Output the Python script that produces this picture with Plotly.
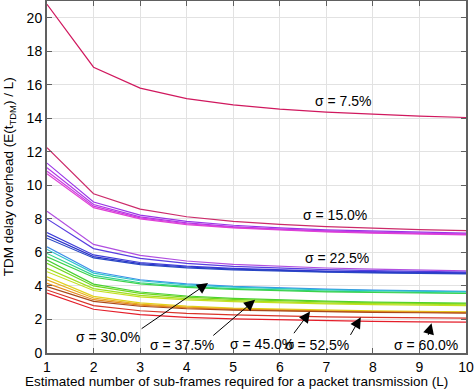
import plotly.graph_objects as go

L = [1, 2, 3, 4, 5, 6, 7, 8, 9, 10]

s075_a = [20.8, 17.05, 15.8, 15.18, 14.8, 14.55, 14.37, 14.24, 14.13, 14.05]

s150_a = [12.25, 9.5, 8.58, 8.13, 7.85, 7.67, 7.54, 7.44, 7.36, 7.3]
s150_b = [11.33, 9.01, 8.23, 7.85, 7.62, 7.46, 7.35, 7.27, 7.2, 7.15]
s150_c = [11.05, 8.86, 8.12, 7.76, 7.54, 7.39, 7.29, 7.21, 7.15, 7.1]
s150_d = [10.85, 8.76, 8.06, 7.71, 7.50, 7.36, 7.26, 7.18, 7.13, 7.08]
s150_e = [10.7, 8.67, 8.0, 7.66, 7.46, 7.32, 7.22, 7.15, 7.09, 7.05]

s225_a = [8.45, 6.48, 5.82, 5.49, 5.29, 5.16, 5.07, 5.0, 4.94, 4.9]
s225_b = [8.0, 6.23, 5.64, 5.35, 5.17, 5.06, 4.97, 4.91, 4.86, 4.82]
s225_c = [7.18, 5.85, 5.4, 5.18, 5.05, 4.96, 4.89, 4.85, 4.81, 4.78]
s225_d = [7.0, 5.75, 5.33, 5.13, 5.0, 4.92, 4.86, 4.81, 4.78, 4.75]
s225_e = [6.85, 5.67, 5.27, 5.08, 4.96, 4.88, 4.82, 4.78, 4.75, 4.72]

s300_a = [6.33, 4.86, 4.37, 4.12, 3.97, 3.88, 3.81, 3.75, 3.71, 3.68]
s300_b = [6.18, 4.77, 4.31, 4.07, 3.93, 3.84, 3.77, 3.72, 3.68, 3.65]
s300_c = [5.94, 4.63, 4.19, 3.97, 3.84, 3.76, 3.69, 3.65, 3.61, 3.58]
s300_d = [5.74, 4.52, 4.12, 3.92, 3.79, 3.71, 3.65, 3.61, 3.58, 3.55]

s375_a = [5.54, 4.11, 3.64, 3.40, 3.26, 3.16, 3.09, 3.04, 3.0, 2.97]
s375_b = [5.35, 4.0, 3.56, 3.33, 3.2, 3.11, 3.05, 2.99, 2.96, 2.93]
s375_c = [5.05, 3.84, 3.44, 3.24, 3.12, 3.04, 2.98, 2.94, 2.91, 2.88]
s375_d = [4.85, 3.73, 3.35, 3.17, 3.06, 2.98, 2.93, 2.89, 2.86, 2.83]

s450_a = [4.55, 3.38, 2.99, 2.8, 2.68, 2.61, 2.55, 2.51, 2.48, 2.45]
s450_b = [4.36, 3.28, 2.92, 2.74, 2.64, 2.56, 2.51, 2.47, 2.44, 2.42]
s450_c = [4.16, 3.18, 2.86, 2.69, 2.6, 2.53, 2.48, 2.45, 2.42, 2.4]
s450_d = [3.96, 3.08, 2.79, 2.64, 2.56, 2.50, 2.45, 2.42, 2.4, 2.38]

s525_a = [3.76, 2.83, 2.52, 2.36, 2.27, 2.20, 2.16, 2.13, 2.10, 2.08]
s600_a = [3.57, 2.61, 2.29, 2.13, 2.03, 1.97, 1.92, 1.89, 1.86, 1.84]

series = [
    (s075_a, "#d0185e"),
    (s150_a, "#cc2a6a"), (s150_b, "#9a34e6"), (s150_c, "#b236e6"),
    (s150_d, "#cc3ce0"), (s150_e, "#e040d6"),
    (s225_a, "#b04ee0"), (s225_b, "#5a3ee0"), (s225_c, "#3c3cd8"),
    (s225_d, "#2c34c8"), (s225_e, "#2846c4"),
    (s300_a, "#3c8ee8"), (s300_b, "#2cc4cc"), (s300_c, "#30d28a"), (s300_d, "#3cd24a"),
    (s375_a, "#48d030"), (s375_b, "#70d620"), (s375_c, "#a0de20"), (s375_d, "#c4e020"),
    (s450_a, "#e2d21e"), (s450_b, "#e6b01e"), (s450_c, "#e68a1e"), (s450_d, "#a8481a"),
    (s525_a, "#d83428"), (s600_a, "#e41e2a"),
]

labels = ["σ = 7.5%", "σ = 15.0%", "σ = 22.5%", "σ = 30.0%", "σ = 37.5%",
          "σ = 45.0%", "σ = 52.5%", "σ = 60.0%"]
label_x = [7.36, 7.19, 7.23, 2.31, 3.9, 5.62, 6.8, 9.14]
label_y = [15.05, 8.22, 5.64, 0.93, 0.5, 0.55, 0.5, 0.5]

arrow_tip_x = [4.46, 5.47, 6.65, 7.74, 9.26]
arrow_tip_y = [4.17, 3.17, 2.47, 2.14, 1.78]
arrow_tail_x = [3.0, 4.54, 6.28, 7.5, 9.18]
arrow_tail_y = [1.39, 0.97, 1.09, 0.99, 0.99]

FONT = "Arial, 'Liberation Sans', sans-serif"

fig = go.Figure()
for vals, col in series:
    fig.add_trace(go.Scatter(x=L, y=vals, mode="lines",
                             line=dict(color=col, width=1.2),
                             showlegend=False, hoverinfo="skip"))

for t, x, y in zip(labels, label_x, label_y):
    fig.add_annotation(x=x, y=y, text=t, showarrow=False,
                       font=dict(family=FONT, size=14, color="black"))

for tx, ty, sx, sy in zip(arrow_tip_x, arrow_tip_y, arrow_tail_x, arrow_tail_y):
    fig.add_annotation(x=tx, y=ty, ax=sx, ay=sy, axref="x", ayref="y",
                       text="", showarrow=True, arrowhead=2, arrowsize=2.2,
                       arrowwidth=1, arrowcolor="black")

# axis titles as paper annotations
fig.add_annotation(xref="paper", yref="paper", x=(236 - 47) / 419, y=-0.082,
                   text="Estimated number of sub-frames required for a packet transmission (L)",
                   showarrow=False, xanchor="center", yanchor="middle",
                   font=dict(family=FONT, size=13.5, color="black"))
fig.add_annotation(xref="paper", yref="paper", x=-0.09, y=0.5, textangle=-90,
                   text="TDM delay overhead (E(t<sub>TDM</sub>) / L)",
                   showarrow=False, xanchor="center", yanchor="middle",
                   font=dict(family=FONT, size=13.5, color="black"))

axis_common = dict(showline=True, linecolor="#606060", linewidth=2, mirror="ticks",
                   ticks="inside", ticklen=5, tickcolor="#606060",
                   showgrid=True, gridcolor="#e2e2e2", gridwidth=1,
                   zeroline=False, automargin=False,
                   tickfont=dict(family=FONT, size=14, color="black"))

fig.update_xaxes(range=[1, 10], tickvals=L, **axis_common)
fig.update_yaxes(range=[0, 21], tickvals=[0, 2, 4, 6, 8, 10, 12, 14, 16, 18, 20], **axis_common)

fig.update_layout(width=474, height=390, margin=dict(l=47, r=8, t=1, b=37, autoexpand=False),
                  plot_bgcolor="white", paper_bgcolor="white",
                  font=dict(family=FONT, color="black"))

fig.write_html("out.html", config={"displayModeBar": False},
               post_script="document.body.style.margin='0';document.body.style.padding='0';")
